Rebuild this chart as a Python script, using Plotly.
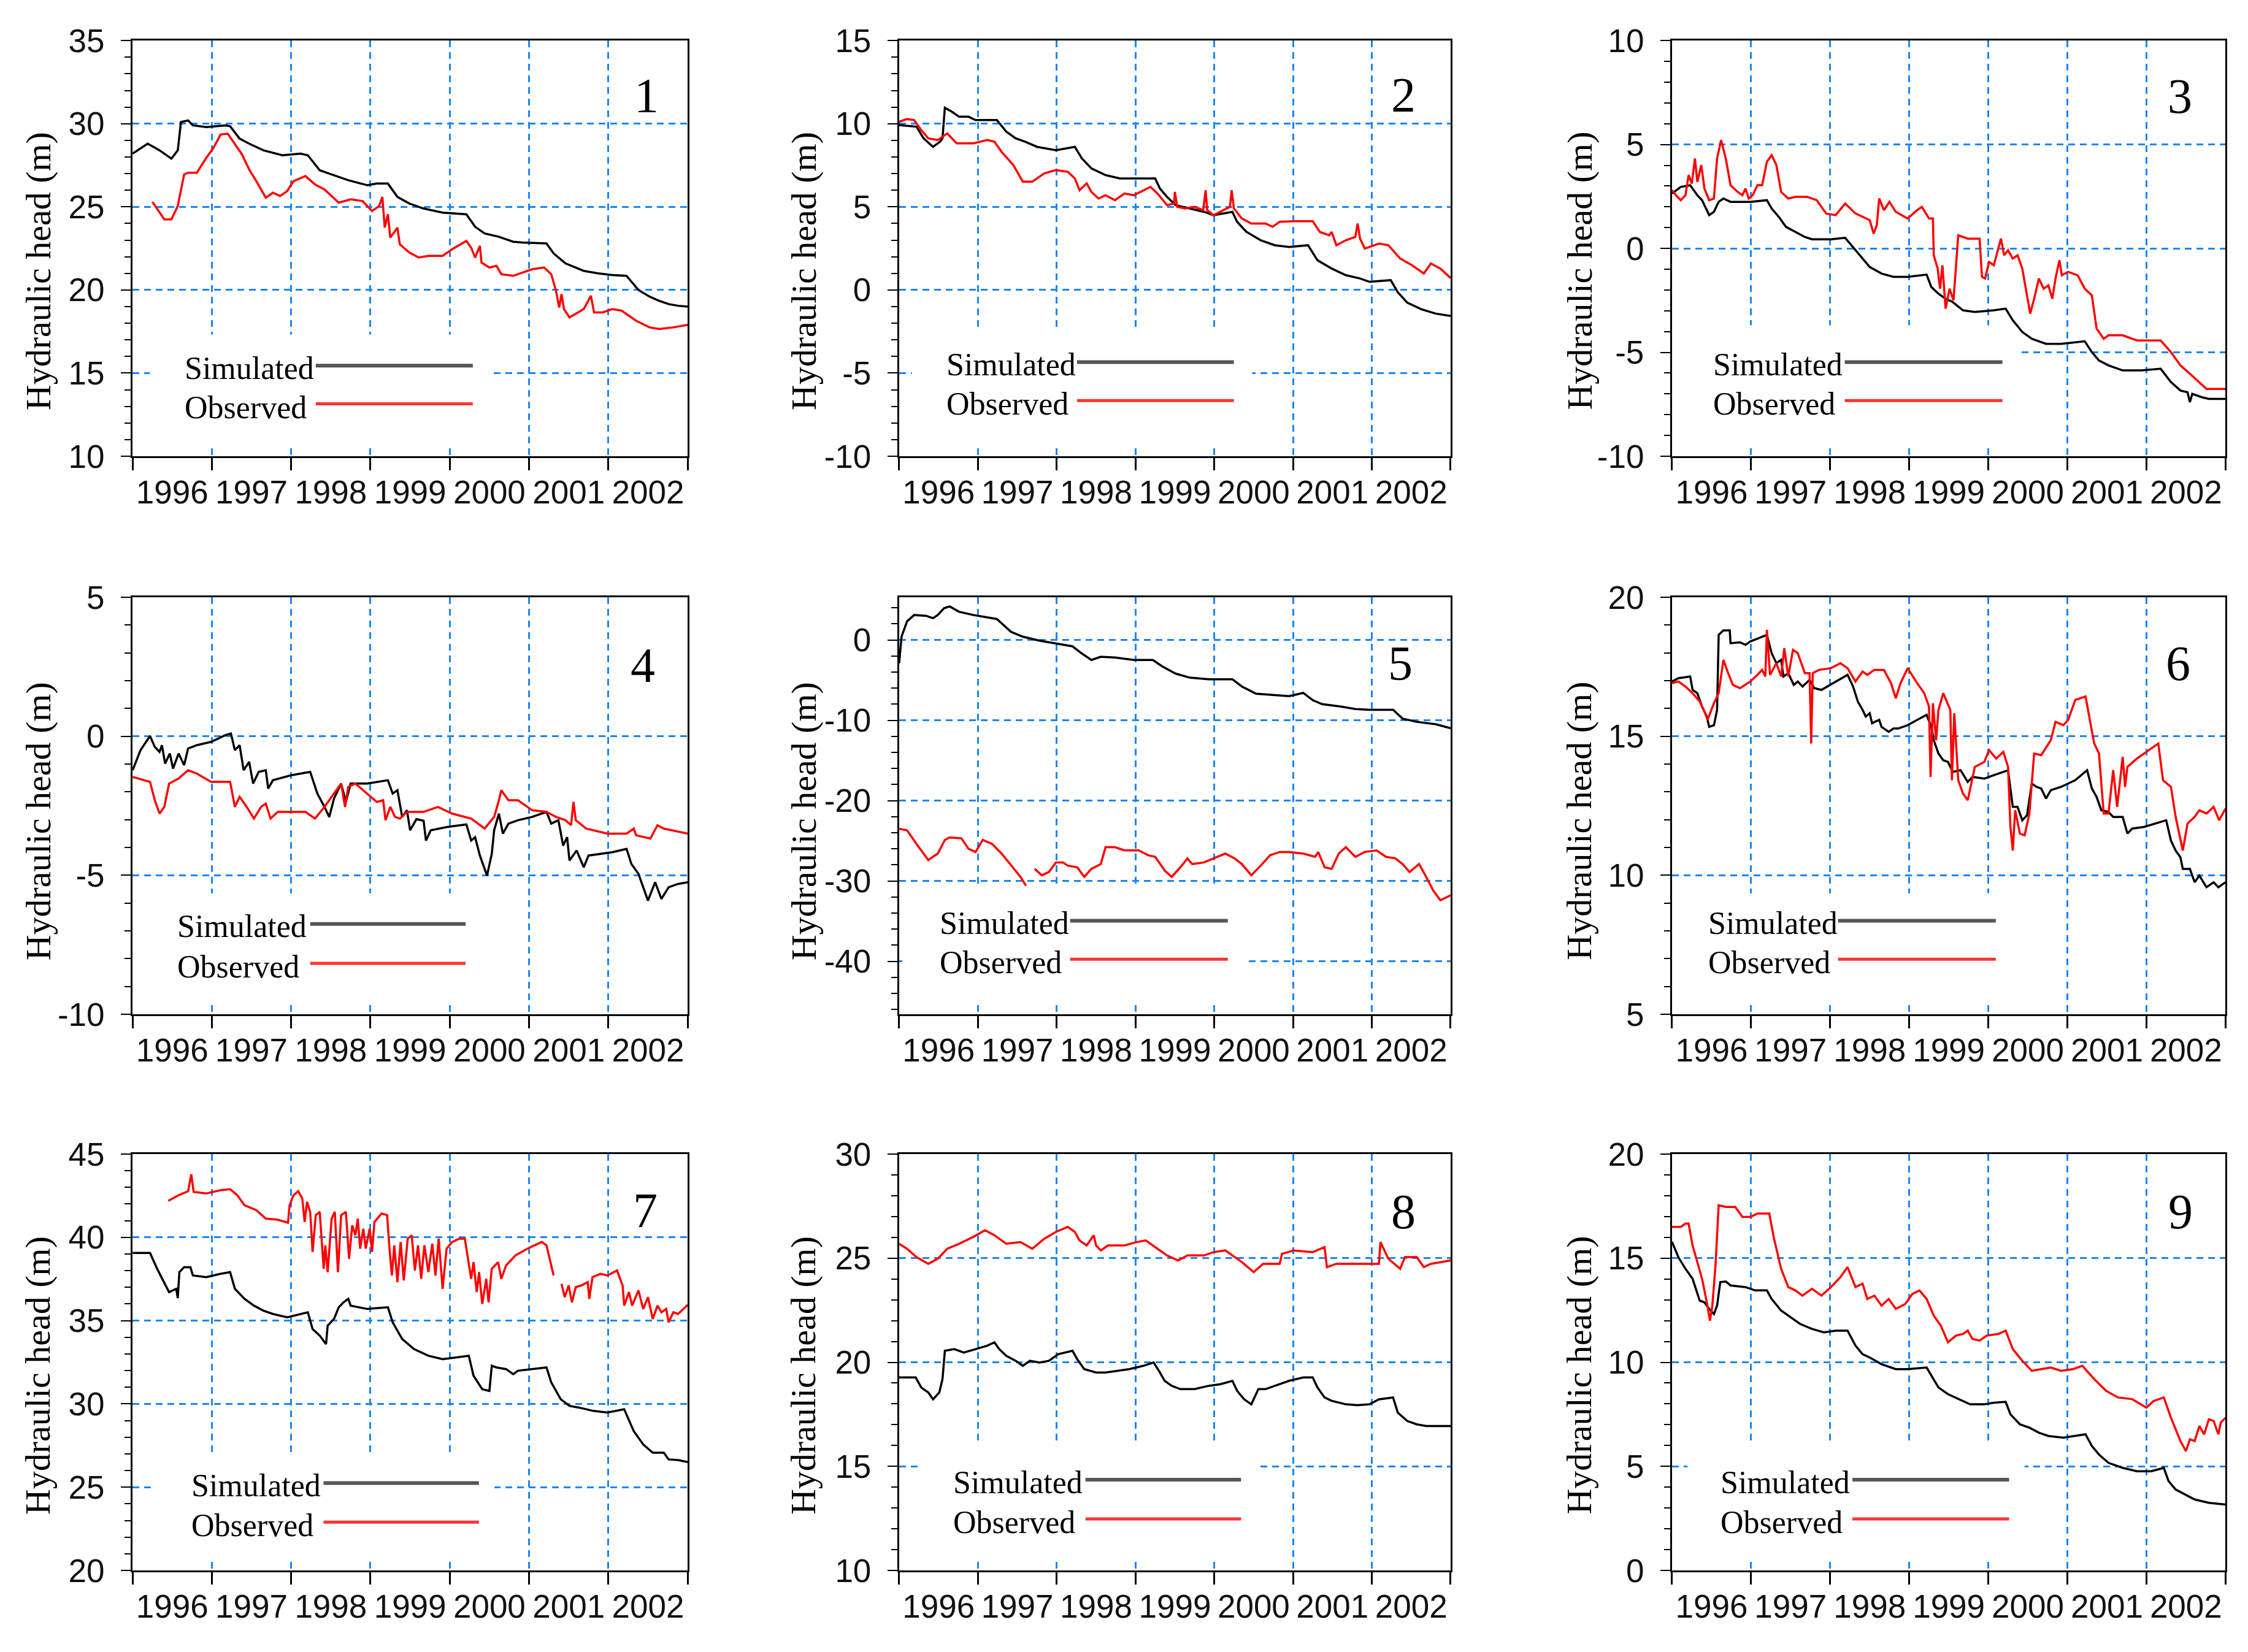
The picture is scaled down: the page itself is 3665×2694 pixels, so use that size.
import numpy as np
import plotly.graph_objects as go

# ---------------- data (decimal year, hydraulic head in m) ----------------
p1_sim = [(1996.00,28.2),(1996.19,28.8),(1996.34,28.4),(1996.49,27.9),(1996.57,28.4),(1996.61,30.1),(1996.70,30.2),(1996.76,29.9),(1996.93,29.8),(1997.17,29.9),(1997.23,29.85),(1997.35,29.1),(1997.47,28.8),(1997.65,28.4),(1997.89,28.1),(1998.12,28.2),(1998.21,28.1),(1998.36,27.2),(1998.48,27.0),(1998.72,26.6),(1998.96,26.3),(1999.08,26.4),(1999.22,26.4),(1999.34,25.6),(1999.49,25.2),(1999.67,24.9),(1999.91,24.65),(2000.03,24.6),(2000.21,24.55),(2000.32,23.8),(2000.44,23.4),(2000.62,23.2),(2000.80,22.9),(2000.92,22.85),(2001.22,22.8),(2001.31,22.2),(2001.46,21.6),(2001.69,21.15),(2001.87,21.0),(2002.05,20.9),(2002.23,20.85),(2002.38,20.0),(2002.52,19.6),(2002.64,19.35),(2002.76,19.15),(2002.88,19.05),(2003.00,19.0)]
p1_obs = [(1996.25,25.3),(1996.40,24.25),(1996.49,24.25),(1996.57,25.05),(1996.65,26.95),(1996.70,27.05),(1996.81,27.05),(1996.93,27.95),(1997.02,28.55),(1997.11,29.35),(1997.20,29.4),(1997.29,28.75),(1997.38,28.15),(1997.47,27.25),(1997.56,26.55),(1997.68,25.55),(1997.77,25.85),(1997.86,25.65),(1997.95,25.95),(1998.03,26.55),(1998.18,26.85),(1998.30,26.35),(1998.42,26.05),(1998.60,25.25),(1998.75,25.45),(1998.90,25.35),(1999.02,24.75),(1999.11,25.05),(1999.15,25.6),(1999.18,23.75),(1999.22,24.55),(1999.25,23.15),(1999.34,23.75),(1999.37,22.75),(1999.49,22.25),(1999.61,21.95),(1999.73,22.05),(1999.91,22.05),(2000.03,22.45),(2000.21,22.95),(2000.27,22.55),(2000.32,21.95),(2000.38,22.65),(2000.40,21.65),(2000.50,21.35),(2000.59,21.45),(2000.65,20.95),(2000.80,20.85),(2000.92,21.05),(2001.04,21.25),(2001.19,21.35),(2001.28,20.95),(2001.34,19.95),(2001.38,18.95),(2001.41,19.75),(2001.44,18.85),(2001.51,18.35),(2001.69,18.85),(2001.78,19.65),(2001.82,18.65),(2001.93,18.65),(2002.05,18.85),(2002.17,18.75),(2002.35,18.15),(2002.52,17.75),(2002.64,17.65),(2002.82,17.75),(2003.00,17.9)]

p2_sim = [(1996.00,9.92),(1996.22,9.82),(1996.31,9.12),(1996.43,8.61),(1996.52,8.92),(1996.55,9.12),(1996.58,10.96),(1996.67,10.72),(1996.76,10.42),(1996.88,10.42),(1996.97,10.22),(1997.24,10.22),(1997.36,9.52),(1997.48,9.12),(1997.60,8.92),(1997.75,8.61),(1997.99,8.41),(1998.23,8.61),(1998.32,7.91),(1998.44,7.31),(1998.62,6.91),(1998.80,6.71),(1998.98,6.71),(1999.25,6.71),(1999.31,6.10),(1999.40,5.60),(1999.51,5.10),(1999.69,4.90),(1999.87,4.70),(1999.99,4.50),(2000.23,4.70),(2000.29,4.10),(2000.41,3.49),(2000.59,2.99),(2000.77,2.69),(2000.95,2.59),(2001.19,2.69),(2001.31,1.79),(2001.49,1.29),(2001.67,0.89),(2001.85,0.69),(2001.97,0.49),(2002.24,0.59),(2002.33,-0.14),(2002.45,-0.76),(2002.63,-1.16),(2002.81,-1.42),(2003.00,-1.56)]
p2_obs = [(1996.00,10.12),(1996.10,10.28),(1996.19,10.22),(1996.28,9.62),(1996.37,9.12),(1996.49,9.02),(1996.61,9.42),(1996.73,8.82),(1996.94,8.82),(1997.12,9.02),(1997.21,8.92),(1997.30,8.31),(1997.45,7.51),(1997.57,6.51),(1997.69,6.51),(1997.84,7.01),(1997.99,7.21),(1998.14,7.11),(1998.23,6.71),(1998.29,6.00),(1998.38,6.41),(1998.44,5.90),(1998.53,5.50),(1998.62,5.70),(1998.74,5.40),(1998.86,5.80),(1998.98,5.70),(1999.10,6.00),(1999.19,6.20),(1999.28,5.80),(1999.40,5.10),(1999.49,5.20),(1999.50,5.90),(1999.53,5.00),(1999.63,4.90),(1999.75,5.00),(1999.86,4.80),(1999.89,6.00),(1999.91,4.80),(1999.99,4.50),(2000.08,4.70),(2000.20,5.00),(2000.22,6.00),(2000.25,4.90),(2000.35,4.30),(2000.47,4.00),(2000.65,4.00),(2000.74,3.80),(2000.83,4.10),(2001.01,4.14),(2001.25,4.14),(2001.34,3.49),(2001.46,3.29),(2001.49,3.49),(2001.55,2.69),(2001.67,2.99),(2001.79,3.19),(2001.82,4.00),(2001.85,3.09),(2001.91,2.49),(2002.09,2.79),(2002.21,2.69),(2002.36,1.89),(2002.51,1.49),(2002.66,0.99),(2002.75,1.59),(2002.87,1.29),(2003.00,0.72)]

p3_sim = [(1996.00,2.64),(1996.11,2.96),(1996.23,3.04),(1996.32,2.56),(1996.38,2.32),(1996.47,1.60),(1996.53,1.76),(1996.59,2.24),(1996.65,2.40),(1996.74,2.24),(1996.99,2.24),(1997.20,2.32),(1997.26,1.92),(1997.35,1.52),(1997.44,1.04),(1997.56,0.80),(1997.68,0.55),(1997.77,0.44),(1998.01,0.44),(1998.19,0.51),(1998.29,0.07),(1998.38,-0.33),(1998.50,-0.89),(1998.65,-1.21),(1998.80,-1.37),(1998.98,-1.37),(1999.22,-1.26),(1999.28,-1.86),(1999.37,-2.18),(1999.46,-2.42),(1999.55,-2.58),(1999.68,-2.98),(1999.83,-3.06),(2000.07,-2.98),(2000.22,-2.90),(2000.31,-3.46),(2000.43,-4.02),(2000.55,-4.35),(2000.73,-4.59),(2000.92,-4.59),(2001.10,-4.51),(2001.22,-4.47),(2001.31,-4.99),(2001.40,-5.39),(2001.52,-5.63),(2001.70,-5.87),(2001.94,-5.87),(2002.18,-5.79),(2002.31,-6.43),(2002.43,-6.84),(2002.52,-6.92),(2002.55,-7.40),(2002.58,-7.00),(2002.70,-7.16),(2002.79,-7.24),(2003.00,-7.24)]
p3_obs = [(1996.00,2.80),(1996.05,2.56),(1996.11,2.32),(1996.17,2.56),(1996.21,3.53),(1996.25,3.12),(1996.29,4.33),(1996.32,3.20),(1996.37,4.01),(1996.41,2.88),(1996.47,2.32),(1996.53,2.40),(1996.57,4.33),(1996.62,5.21),(1996.68,4.33),(1996.74,3.04),(1996.83,2.72),(1996.89,2.56),(1996.93,2.88),(1996.97,2.40),(1997.02,2.56),(1997.08,3.04),(1997.14,3.04),(1997.20,4.17),(1997.26,4.49),(1997.32,4.01),(1997.38,2.72),(1997.47,2.40),(1997.56,2.48),(1997.71,2.48),(1997.83,2.32),(1997.95,1.68),(1998.07,1.60),(1998.19,2.16),(1998.32,1.68),(1998.50,1.36),(1998.55,0.71),(1998.59,1.12),(1998.62,2.40),(1998.68,1.84),(1998.75,2.24),(1998.83,1.76),(1998.98,1.44),(1999.10,1.84),(1999.16,2.00),(1999.25,1.44),(1999.30,1.44),(1999.31,-0.33),(1999.36,-0.97),(1999.39,-1.94),(1999.42,-0.81),(1999.46,-2.90),(1999.51,-1.94),(1999.56,-2.50),(1999.62,0.63),(1999.74,0.47),(1999.89,0.47),(1999.92,-1.37),(1999.96,-1.45),(2000.01,-0.65),(2000.07,-0.81),(2000.16,0.47),(2000.20,-0.33),(2000.25,-0.09),(2000.31,-0.49),(2000.37,-0.33),(2000.43,-0.97),(2000.49,-2.26),(2000.53,-3.14),(2000.58,-2.42),(2000.64,-1.45),(2000.70,-1.94),(2000.76,-1.78),(2000.81,-2.42),(2000.85,-1.45),(2000.90,-0.57),(2000.93,-1.29),(2001.01,-1.13),(2001.13,-1.29),(2001.22,-1.94),(2001.31,-2.26),(2001.37,-3.86),(2001.46,-4.35),(2001.52,-4.18),(2001.70,-4.18),(2001.88,-4.43),(2002.18,-4.43),(2002.31,-4.99),(2002.43,-5.63),(2002.55,-6.03),(2002.67,-6.43),(2002.76,-6.76),(2003.00,-6.76)]

p4_sim = [(1996.00,-1.22),(1996.10,-0.50),(1996.22,0.01),(1996.28,-0.38),(1996.34,-0.56),(1996.37,-0.32),(1996.41,-0.98),(1996.47,-0.62),(1996.51,-1.16),(1996.58,-0.62),(1996.65,-1.04),(1996.70,-0.44),(1996.81,-0.32),(1996.99,-0.20),(1997.17,0.04),(1997.24,0.10),(1997.29,-0.50),(1997.35,-0.32),(1997.40,-1.22),(1997.47,-0.92),(1997.52,-1.70),(1997.59,-1.28),(1997.68,-1.22),(1997.71,-1.88),(1997.77,-1.58),(1998.00,-1.40),(1998.24,-1.28),(1998.33,-2.06),(1998.42,-2.54),(1998.48,-2.90),(1998.54,-2.24),(1998.63,-1.70),(1998.69,-2.36),(1998.75,-1.70),(1998.96,-1.70),(1999.22,-1.58),(1999.28,-2.06),(1999.34,-1.94),(1999.40,-2.90),(1999.46,-2.66),(1999.50,-3.38),(1999.58,-2.98),(1999.67,-3.04),(1999.70,-3.75),(1999.76,-3.38),(1999.97,-3.26),(2000.21,-3.17),(2000.27,-3.75),(2000.32,-3.63),(2000.38,-4.29),(2000.47,-5.01),(2000.53,-4.23),(2000.56,-3.38),(2000.62,-2.78),(2000.67,-3.50),(2000.74,-3.14),(2000.86,-3.02),(2001.04,-2.90),(2001.22,-2.72),(2001.28,-3.14),(2001.37,-3.02),(2001.43,-3.93),(2001.48,-3.63),(2001.51,-4.47),(2001.60,-4.11),(2001.69,-4.71),(2001.75,-4.29),(2002.05,-4.17),(2002.23,-4.05),(2002.29,-4.59),(2002.38,-4.95),(2002.44,-5.43),(2002.50,-5.91),(2002.59,-5.25),(2002.67,-5.85),(2002.76,-5.43),(2002.88,-5.31),(2003.00,-5.25)]
p4_obs = [(1996.00,-1.46),(1996.16,-1.58),(1996.22,-1.64),(1996.28,-2.30),(1996.34,-2.78),(1996.40,-2.54),(1996.46,-1.70),(1996.58,-1.52),(1996.70,-1.22),(1996.81,-1.34),(1996.99,-1.64),(1997.23,-1.64),(1997.29,-2.54),(1997.35,-2.18),(1997.44,-2.54),(1997.53,-2.96),(1997.62,-2.54),(1997.68,-2.42),(1997.74,-2.96),(1997.83,-2.72),(1998.00,-2.72),(1998.18,-2.72),(1998.30,-2.96),(1998.42,-2.54),(1998.54,-2.06),(1998.63,-1.70),(1998.68,-2.54),(1998.72,-1.82),(1998.81,-1.70),(1998.96,-2.06),(1999.08,-2.36),(1999.16,-2.30),(1999.19,-3.02),(1999.25,-2.54),(1999.31,-2.90),(1999.37,-2.96),(1999.46,-2.72),(1999.67,-2.72),(1999.85,-2.54),(2000.03,-2.78),(2000.27,-2.96),(2000.44,-3.32),(2000.56,-2.90),(2000.62,-2.30),(2000.65,-1.94),(2000.74,-2.30),(2000.86,-2.30),(2001.04,-2.66),(2001.22,-2.72),(2001.34,-2.90),(2001.46,-3.02),(2001.53,-3.20),(2001.56,-2.36),(2001.59,-3.02),(2001.72,-3.32),(2001.99,-3.50),(2002.23,-3.50),(2002.32,-3.32),(2002.35,-3.56),(2002.53,-3.68),(2002.62,-3.20),(2002.70,-3.32),(2003.00,-3.50)]

p5_sim = [(1996.00,-2.9),(1996.03,0.4),(1996.10,2.3),(1996.19,3.1),(1996.34,3.0),(1996.43,2.7),(1996.49,3.1),(1996.57,3.95),(1996.64,4.16),(1996.76,3.5),(1996.94,3.1),(1997.12,2.8),(1997.24,2.6),(1997.42,1.0),(1997.57,0.4),(1997.78,-0.1),(1998.02,-0.5),(1998.20,-0.8),(1998.32,-1.7),(1998.44,-2.5),(1998.56,-2.1),(1998.74,-2.2),(1998.98,-2.5),(1999.22,-2.5),(1999.34,-3.3),(1999.51,-4.2),(1999.69,-4.7),(1999.93,-4.9),(2000.23,-4.9),(2000.35,-5.8),(2000.53,-6.7),(2000.77,-6.9),(2000.95,-7.0),(2001.13,-6.6),(2001.25,-7.5),(2001.37,-8.0),(2001.61,-8.3),(2001.79,-8.6),(2001.97,-8.7),(2002.27,-8.7),(2002.39,-9.8),(2002.57,-10.2),(2002.81,-10.5),(2003.00,-11.0)]
p5_obs = [(1996.00,-23.5),(1996.10,-23.7),(1996.22,-25.4),(1996.37,-27.4),(1996.49,-26.6),(1996.58,-24.9),(1996.64,-24.6),(1996.79,-24.7),(1996.88,-26.0),(1996.97,-26.4),(1997.06,-24.9),(1997.18,-25.4),(1997.30,-26.6),(1997.42,-28.1),(1997.54,-29.5),(1997.61,-30.6),(1997.66,None),(1997.72,-28.5),(1997.81,-29.3),(1997.90,-28.9),(1997.99,-27.7),(1998.08,-27.7),(1998.14,-28.1),(1998.26,-28.3),(1998.35,-29.5),(1998.44,-28.5),(1998.56,-27.9),(1998.62,-25.8),(1998.74,-25.8),(1998.86,-26.2),(1999.04,-26.2),(1999.16,-26.8),(1999.25,-27.0),(1999.37,-28.7),(1999.46,-29.5),(1999.57,-28.3),(1999.66,-27.2),(1999.72,-27.9),(1999.87,-27.7),(1999.99,-27.2),(2000.14,-26.6),(2000.26,-27.2),(2000.35,-27.9),(2000.47,-29.3),(2000.59,-28.1),(2000.71,-26.8),(2000.83,-26.4),(2000.95,-26.4),(2001.13,-26.6),(2001.28,-27.0),(2001.32,-26.4),(2001.40,-28.3),(2001.49,-28.5),(2001.58,-26.6),(2001.67,-25.8),(2001.79,-27.0),(2001.91,-26.4),(2002.06,-26.2),(2002.18,-27.0),(2002.30,-27.2),(2002.39,-27.9),(2002.48,-28.9),(2002.60,-27.9),(2002.69,-29.5),(2002.78,-31.2),(2002.87,-32.4),(2003.00,-31.8)]

p6_sim = [(1996.00,16.97),(1996.08,17.09),(1996.23,17.15),(1996.26,16.67),(1996.32,16.55),(1996.38,16.07),(1996.44,15.71),(1996.47,15.34),(1996.53,15.40),(1996.57,15.95),(1996.59,18.65),(1996.65,18.81),(1996.73,18.81),(1996.74,18.35),(1996.86,18.38),(1996.93,18.29),(1996.99,18.41),(1997.20,18.65),(1997.26,17.99),(1997.32,17.63),(1997.38,17.75),(1997.41,17.15),(1997.47,17.27),(1997.54,16.85),(1997.59,16.97),(1997.65,16.79),(1997.74,17.03),(1997.80,16.73),(1997.89,16.67),(1998.07,16.97),(1998.22,17.21),(1998.29,16.79),(1998.35,16.25),(1998.41,15.95),(1998.45,15.71),(1998.50,15.83),(1998.53,15.47),(1998.62,15.59),(1998.65,15.34),(1998.74,15.16),(1998.80,15.28),(1998.86,15.28),(1998.98,15.40),(1999.10,15.59),(1999.22,15.77),(1999.28,15.34),(1999.31,14.86),(1999.37,14.38),(1999.43,14.14),(1999.49,14.08),(1999.55,13.72),(1999.65,13.78),(1999.74,13.36),(1999.80,13.54),(1999.95,13.48),(2000.07,13.60),(2000.19,13.72),(2000.25,13.78),(2000.31,12.46),(2000.37,12.46),(2000.43,11.98),(2000.49,12.16),(2000.55,13.30),(2000.61,13.18),(2000.67,13.12),(2000.73,12.76),(2000.79,13.06),(2000.92,13.18),(2001.10,13.42),(2001.25,13.78),(2001.31,13.12),(2001.37,12.82),(2001.43,12.34),(2001.52,12.28),(2001.58,12.10),(2001.70,12.10),(2001.76,11.50),(2001.82,11.68),(2001.97,11.74),(2002.12,11.86),(2002.25,11.98),(2002.31,11.25),(2002.37,10.89),(2002.43,10.65),(2002.46,10.23),(2002.55,10.23),(2002.61,9.75),(2002.67,9.99),(2002.76,9.57),(2002.85,9.75),(2002.91,9.57),(2003.00,9.75)]
p6_obs = [(1996.00,16.91),(1996.08,16.97),(1996.17,16.79),(1996.26,16.55),(1996.35,16.25),(1996.41,15.89),(1996.45,15.59),(1996.53,16.19),(1996.59,16.55),(1996.62,17.09),(1996.65,17.75),(1996.71,17.27),(1996.77,16.85),(1996.86,16.73),(1996.99,16.97),(1997.08,17.21),(1997.14,17.39),(1997.18,17.15),(1997.20,18.83),(1997.24,17.21),(1997.32,17.63),(1997.38,17.15),(1997.42,18.17),(1997.47,17.15),(1997.53,18.11),(1997.59,17.99),(1997.68,17.27),(1997.74,17.27),(1997.76,14.74),(1997.78,17.27),(1997.86,17.39),(1998.01,17.45),(1998.13,17.63),(1998.22,17.45),(1998.32,16.97),(1998.41,17.33),(1998.47,17.21),(1998.56,17.39),(1998.68,17.39),(1998.77,16.91),(1998.83,16.37),(1998.89,16.91),(1998.98,17.45),(1999.10,16.91),(1999.19,16.55),(1999.25,16.07),(1999.27,13.54),(1999.30,16.19),(1999.34,14.86),(1999.37,15.95),(1999.43,16.55),(1999.52,15.95),(1999.54,13.42),(1999.57,15.83),(1999.62,13.42),(1999.68,12.94),(1999.74,12.70),(1999.83,13.90),(1999.95,14.08),(2000.01,14.50),(2000.10,14.20),(2000.19,14.44),(2000.25,13.90),(2000.28,11.74),(2000.31,10.89),(2000.34,12.34),(2000.40,11.50),(2000.46,11.44),(2000.52,12.22),(2000.58,14.38),(2000.67,14.32),(2000.79,14.86),(2000.85,15.52),(2000.95,15.40),(2001.01,15.59),(2001.10,16.31),(2001.23,16.43),(2001.34,14.74),(2001.40,14.38),(2001.46,12.22),(2001.52,12.22),(2001.58,13.78),(2001.63,12.46),(2001.70,14.26),(2001.73,13.18),(2001.76,13.90),(2001.88,14.20),(2002.06,14.56),(2002.15,14.74),(2002.21,13.42),(2002.31,13.18),(2002.37,12.10),(2002.46,10.89),(2002.52,11.86),(2002.61,12.10),(2002.67,12.34),(2002.76,12.22),(2002.85,12.46),(2002.92,11.98),(2003.00,12.40)]

p7_sim = [(1996.00,39.06),(1996.22,39.06),(1996.31,38.11),(1996.40,37.31),(1996.46,36.71),(1996.55,36.91),(1996.57,36.35),(1996.59,37.91),(1996.65,38.21),(1996.73,38.21),(1996.76,37.71),(1996.93,37.61),(1997.11,37.81),(1997.23,37.91),(1997.29,36.91),(1997.41,36.31),(1997.53,35.90),(1997.65,35.60),(1997.77,35.40),(1997.95,35.20),(1998.21,35.50),(1998.27,34.50),(1998.36,34.10),(1998.44,33.59),(1998.46,34.70),(1998.54,35.10),(1998.60,35.80),(1998.66,36.10),(1998.72,36.31),(1998.75,35.90),(1998.96,35.70),(1999.22,35.80),(1999.28,34.90),(1999.40,33.90),(1999.55,33.29),(1999.73,32.89),(1999.91,32.69),(2000.24,32.89),(2000.30,31.69),(2000.41,30.88),(2000.50,30.78),(2000.53,32.29),(2000.59,32.19),(2000.71,32.09),(2000.80,31.79),(2000.86,31.99),(2001.22,32.19),(2001.28,31.29),(2001.40,30.28),(2001.51,29.88),(2001.63,29.78),(2001.81,29.58),(2001.99,29.48),(2002.20,29.68),(2002.32,28.37),(2002.44,27.57),(2002.56,27.07),(2002.70,27.07),(2002.76,26.67),(2002.88,26.63),(2003.00,26.51)]
p7_obs = [(1996.45,42.19),(1996.58,42.53),(1996.70,42.77),(1996.74,43.78),(1996.77,42.73),(1996.93,42.63),(1997.11,42.83),(1997.23,42.89),(1997.32,42.53),(1997.41,41.93),(1997.56,41.63),(1997.68,41.12),(1997.83,41.06),(1997.96,40.88),(1997.98,41.93),(1998.03,42.53),(1998.09,42.77),(1998.14,42.33),(1998.17,40.92),(1998.20,42.13),(1998.24,41.53),(1998.27,39.12),(1998.31,41.33),(1998.36,41.53),(1998.41,38.11),(1998.43,39.52),(1998.46,37.91),(1998.51,41.12),(1998.55,41.53),(1998.59,37.91),(1998.63,41.33),(1998.69,41.53),(1998.73,38.71),(1998.77,40.72),(1998.81,40.12),(1998.84,41.12),(1998.87,39.32),(1998.91,40.52),(1998.94,39.32),(1998.99,40.52),(1999.02,39.12),(1999.05,40.92),(1999.14,41.43),(1999.21,41.33),(1999.24,39.32),(1999.27,37.71),(1999.30,39.52),(1999.34,37.31),(1999.38,39.72),(1999.42,37.41),(1999.47,39.92),(1999.52,40.12),(1999.56,38.01),(1999.60,39.52),(1999.64,37.51),(1999.68,39.52),(1999.73,37.91),(1999.78,39.62),(1999.82,37.71),(1999.86,39.92),(1999.91,36.91),(1999.96,39.32),(2000.03,39.72),(2000.12,39.92),(2000.19,39.92),(2000.24,38.51),(2000.27,37.51),(2000.30,38.51),(2000.34,36.71),(2000.37,37.91),(2000.41,36.00),(2000.46,37.51),(2000.49,36.10),(2000.53,38.11),(2000.61,38.51),(2000.65,37.51),(2000.71,38.31),(2000.83,38.92),(2000.98,39.32),(2001.16,39.72),(2001.22,39.52),(2001.31,37.71),(2001.36,None),(2001.41,37.21),(2001.45,36.41),(2001.50,37.11),(2001.54,36.10),(2001.59,37.01),(2001.66,37.11),(2001.74,37.31),(2001.76,36.31),(2001.80,37.61),(2001.90,37.81),(2001.99,37.71),(2002.11,38.01),(2002.18,37.11),(2002.20,35.90),(2002.26,36.71),(2002.30,35.90),(2002.38,36.81),(2002.44,35.70),(2002.50,36.41),(2002.56,35.10),(2002.62,35.90),(2002.67,35.50),(2002.73,35.70),(2002.76,34.90),(2002.82,35.50),(2002.88,35.40),(2003.00,35.94)]

p8_sim = [(1996.00,19.27),(1996.21,19.27),(1996.28,18.79),(1996.37,18.55),(1996.43,18.22),(1996.51,18.55),(1996.55,19.19),(1996.58,20.55),(1996.70,20.63),(1996.82,20.47),(1996.97,20.63),(1997.12,20.80),(1997.21,20.96),(1997.27,20.63),(1997.36,20.31),(1997.48,20.07),(1997.57,19.83),(1997.66,20.07),(1997.78,19.99),(1997.90,20.07),(1998.02,20.39),(1998.20,20.55),(1998.26,20.15),(1998.35,19.67),(1998.50,19.51),(1998.62,19.51),(1998.77,19.59),(1998.92,19.67),(1999.10,19.83),(1999.23,19.99),(1999.31,19.51),(1999.37,19.11),(1999.46,18.87),(1999.57,18.71),(1999.75,18.71),(1999.93,18.87),(2000.08,18.95),(2000.23,19.11),(2000.29,18.63),(2000.38,18.22),(2000.47,17.98),(2000.56,18.71),(2000.65,18.71),(2000.77,18.87),(2000.95,19.11),(2001.13,19.27),(2001.25,19.27),(2001.31,18.79),(2001.40,18.31),(2001.49,18.15),(2001.67,17.98),(2001.82,17.94),(2001.97,17.98),(2002.09,18.22),(2002.27,18.31),(2002.33,17.58),(2002.45,17.18),(2002.57,17.02),(2002.69,16.94),(2002.81,16.94),(2003.00,16.94)]
p8_obs = [(1996.00,25.69),(1996.10,25.45),(1996.22,25.05),(1996.37,24.73),(1996.49,24.97),(1996.61,25.45),(1996.76,25.69),(1996.94,26.02),(1997.09,26.34),(1997.21,26.10),(1997.36,25.69),(1997.54,25.77),(1997.69,25.45),(1997.84,25.93),(1997.99,26.26),(1998.14,26.50),(1998.23,26.26),(1998.29,25.85),(1998.38,25.61),(1998.47,26.10),(1998.50,25.61),(1998.56,25.37),(1998.65,25.61),(1998.86,25.61),(1999.01,25.77),(1999.13,25.85),(1999.28,25.45),(1999.40,25.13),(1999.54,24.89),(1999.66,25.13),(1999.87,25.13),(1999.99,25.29),(2000.14,25.37),(2000.23,25.13),(2000.35,24.81),(2000.50,24.33),(2000.62,24.73),(2000.83,24.73),(2000.86,25.21),(2001.01,25.37),(2001.25,25.29),(2001.40,25.53),(2001.43,24.57),(2001.55,24.73),(2001.79,24.73),(2002.09,24.73),(2002.11,25.77),(2002.15,25.45),(2002.21,24.97),(2002.36,24.49),(2002.42,25.05),(2002.57,25.05),(2002.66,24.57),(2002.75,24.73),(2002.87,24.81),(2003.00,24.89)]

p9_sim = [(1996.00,15.78),(1996.08,15.05),(1996.17,14.49),(1996.26,14.01),(1996.35,12.96),(1996.41,12.88),(1996.47,12.56),(1996.53,12.32),(1996.57,12.72),(1996.61,13.85),(1996.68,13.88),(1996.74,13.69),(1996.93,13.61),(1997.05,13.45),(1997.20,13.45),(1997.26,13.04),(1997.38,12.48),(1997.50,12.16),(1997.62,11.84),(1997.77,11.60),(1997.92,11.44),(1998.07,11.52),(1998.22,11.52),(1998.32,10.80),(1998.41,10.39),(1998.50,10.23),(1998.65,9.91),(1998.83,9.67),(1998.98,9.67),(1999.22,9.75),(1999.28,9.35),(1999.37,8.79),(1999.49,8.47),(1999.62,8.23),(1999.77,7.98),(1999.95,7.98),(2000.07,8.06),(2000.22,8.10),(2000.28,7.50),(2000.40,7.02),(2000.52,6.86),(2000.64,6.62),(2000.76,6.46),(2000.95,6.38),(2001.10,6.46),(2001.23,6.54),(2001.31,5.98),(2001.40,5.57),(2001.52,5.17),(2001.70,4.93),(2001.88,4.77),(2002.06,4.77),(2002.22,4.93),(2002.28,4.29),(2002.37,3.89),(2002.49,3.65),(2002.61,3.41),(2002.79,3.25),(2003.00,3.17)]
p9_obs = [(1996.00,16.50),(1996.11,16.50),(1996.17,16.66),(1996.21,16.66),(1996.26,15.61),(1996.32,14.81),(1996.38,14.01),(1996.44,12.88),(1996.48,12.00),(1996.51,12.72),(1996.55,14.65),(1996.59,17.54),(1996.68,17.46),(1996.80,17.46),(1996.89,16.98),(1996.99,16.98),(1997.08,17.14),(1997.23,17.14),(1997.29,15.94),(1997.38,14.49),(1997.47,13.61),(1997.56,13.45),(1997.65,13.20),(1997.77,13.53),(1997.89,13.20),(1998.01,13.61),(1998.13,14.09),(1998.22,14.57),(1998.32,13.61),(1998.41,13.77),(1998.47,13.04),(1998.56,13.20),(1998.65,12.72),(1998.74,13.04),(1998.83,12.56),(1998.95,12.80),(1999.04,13.28),(1999.13,13.45),(1999.22,13.04),(1999.31,12.24),(1999.40,11.76),(1999.49,10.96),(1999.59,11.28),(1999.68,11.36),(1999.74,11.52),(1999.80,11.12),(1999.89,11.04),(1999.98,11.28),(2000.13,11.36),(2000.22,11.52),(2000.31,10.63),(2000.43,10.07),(2000.55,9.59),(2000.67,9.67),(2000.79,9.75),(2000.92,9.59),(2001.07,9.67),(2001.19,9.83),(2001.34,9.19),(2001.49,8.63),(2001.64,8.31),(2001.82,8.23),(2002.00,7.82),(2002.09,8.14),(2002.22,8.31),(2002.31,7.34),(2002.43,6.22),(2002.50,5.73),(2002.55,6.30),(2002.61,6.22),(2002.67,6.94),(2002.73,6.54),(2002.79,7.26),(2002.85,7.18),(2002.91,6.54),(2002.94,7.10),(2003.00,7.34)]

simulated = [p1_sim, p2_sim, p3_sim, p4_sim, p5_sim, p6_sim, p7_sim, p8_sim, p9_sim]
observed = [p1_obs, p2_obs, p3_obs, p4_obs, p5_obs, p6_obs, p7_obs, p8_obs, p9_obs]

panel_labels = ["1", "2", "3", "4", "5", "6", "7", "8", "9"]
series_names = ["Simulated", "Observed"]
y_title = "Hydraulic head (m)"

year_labels = ["1996", "1997", "1998", "1999", "2000", "2001", "2002"]
year_label_pos = [1996.5, 1997.5, 1998.5, 1999.5, 2000.5, 2001.5, 2002.5]
year_bounds = [1996, 1997, 1998, 1999, 2000, 2001, 2002, 2003]
x_range = [1996, 2003]

y_ranges = [[10, 35], [-10, 15], [-10, 10], [-10, 5], [-46.6, 5.3], [5, 20], [20, 45], [10, 30], [0, 20]]
y_ticks = [[10, 15, 20, 25, 30, 35], [-10, -5, 0, 5, 10, 15], [-10, -5, 0, 5, 10], [-10, -5, 0, 5],
           [-40, -30, -20, -10, 0], [5, 10, 15, 20], [20, 25, 30, 35, 40, 45], [10, 15, 20, 25, 30], [0, 5, 10, 15, 20]]
y_minor_step = [1, 1, 1, 1, 2, 1, 1, 1, 1]

# ---------------- style / layout ----------------
W, H = 3665, 2694
DX, DY = -0.0027, 0.0022   # small page-offset compensation
col_dom = [(0.0595 + DX, 0.3064 + DX), (0.4005 + DX, 0.6458 + DX), (0.7443 + DX, 0.9905 + DX)]
row_dom = [(0.7246 + DY, 0.9762 + DY), (0.3868 + DY, 0.6392 + DY), (0.0501 + DY, 0.3022 + DY)]
ytitle_x = [0.0175 + DX, 0.3580 + DX, 0.7030 + DX]
ytitle_y = [0.8367 + DY, 0.5037 + DY, 0.1682 + DY]
num_pos = [(0.926, 0.867), (0.914, 0.869), (0.918, 0.866),
           (0.919, 0.837), (0.909, 0.841), (0.914, 0.841),
           (0.924, 0.865), (0.914, 0.862), (0.919, 0.862)]
# legend box / sample positions, fractions of each plot area
leg = [
    dict(tl=0.091, lx0=0.330, lx1=0.613, ys=0.218, yo=0.126, bx0=0.031, bx1=0.645, by1=0.293),
    dict(tl=0.083, lx0=0.3225, lx1=0.607, ys=0.2265, yo=0.134, bx0=0.023, bx1=0.64, by1=0.31),
    dict(tl=0.072, lx0=0.312, lx1=0.597, ys=0.2265, yo=0.134, bx0=0.0, bx1=0.63, by1=0.315),
    dict(tl=0.078, lx0=0.32, lx1=0.60, ys=0.2165, yo=0.122, bx0=0.03, bx1=0.64, by1=0.29),
    dict(tl=0.071, lx0=0.31, lx1=0.596, ys=0.2245, yo=0.132, bx0=0.006, bx1=0.626, by1=0.31),
    dict(tl=0.063, lx0=0.30, lx1=0.585, ys=0.2245, yo=0.132, bx0=0.03, bx1=0.64, by1=0.29),
    dict(tl=0.104, lx0=0.344, lx1=0.624, ys=0.21, yo=0.116, bx0=0.04, bx1=0.652, by1=0.283),
    dict(tl=0.096, lx0=0.338, lx1=0.62, ys=0.218, yo=0.124, bx0=0.036, bx1=0.65, by1=0.30),
    dict(tl=0.085, lx0=0.326, lx1=0.609, ys=0.218, yo=0.124, bx0=0.028, bx1=0.637, by1=0.30),
]

GRID = "#1A86F5"
DASH = "11px,8px"
SANS = "Liberation Sans, Arial, sans-serif"
SERIF = "Liberation Serif, Times New Roman, serif"

fig = go.Figure()
layout = dict(template="none", width=W, height=H,
              margin=dict(l=0, r=0, t=0, b=0, pad=0, autoexpand=False),
              paper_bgcolor="white", plot_bgcolor="white", showlegend=False)
shapes, annotations = [], []

for i in range(9):
    r, c = divmod(i, 3)
    n = "" if i == 0 else str(i + 1)
    xa, ya = "x" + n, "y" + n
    sx, sy = zip(*simulated[i])
    ox, oy = zip(*observed[i])
    fig.add_trace(go.Scatter(x=sx, y=sy, mode="lines", name=series_names[0],
                             line=dict(color="black", width=3.5), xaxis=xa, yaxis=ya))
    fig.add_trace(go.Scatter(x=ox, y=oy, mode="lines", name=series_names[1], connectgaps=False,
                             line=dict(color="#ff0000", width=3.5), xaxis=xa, yaxis=ya))

    lo, hi = y_ranges[i]
    st = y_minor_step[i]
    minor_vals = list(np.arange(np.ceil(lo / st) * st, hi + 1e-9, st))

    layout["xaxis" + n] = dict(
        domain=col_dom[c], anchor=ya, range=x_range, automargin=False,
        tickmode="array", tickvals=year_label_pos, ticktext=year_labels,
        ticks="", showgrid=False, zeroline=False,
        showline=True, mirror=True, linecolor="black", linewidth=3,
        tickfont=dict(family=SANS, size=53, color="#111"),
        ticklabelstandoff=10,
        minor=dict(tickmode="array", tickvals=year_bounds, ticks="outside", ticklen=20,
                   tickwidth=3, tickcolor="black", showgrid=True,
                   gridcolor=GRID, gridwidth=2.5, griddash=DASH),
    )
    layout["yaxis" + n] = dict(
        domain=row_dom[r], anchor=xa, range=[lo, hi], automargin=False,
        tickmode="array", tickvals=y_ticks[i], ticktext=[str(v) for v in y_ticks[i]],
        ticks="outside", ticklen=16, tickwidth=2, tickcolor="black",
        showgrid=True, gridcolor=GRID, gridwidth=2.5, griddash=DASH, zeroline=False,
        showline=True, mirror=True, linecolor="black", linewidth=3,
        tickfont=dict(family=SANS, size=53, color="#111"),
        ticklabelstandoff=16,
        minor=dict(tickmode="array", tickvals=minor_vals, ticks="outside", ticklen=10,
                   tickwidth=2, tickcolor="black", showgrid=False),
    )

    xd, yd = xa + " domain", ya + " domain"
    L = leg[i]
    # white box behind the legend, drawn between grid and data (hides the grid there)
    x0b = x_range[0] + L["bx0"] * (x_range[1] - x_range[0])
    x1b = x_range[0] + L["bx1"] * (x_range[1] - x_range[0])
    y0b = lo + 0.022 * (hi - lo)
    y1b = lo + L["by1"] * (hi - lo)
    shapes.append(dict(type="rect", xref=xa, yref=ya, x0=x0b, x1=x1b, y0=y0b, y1=y1b,
                       fillcolor="white", line=dict(width=0), layer="between"))
    shapes.append(dict(type="line", xref=xd, yref=yd, x0=L["lx0"], x1=L["lx1"], y0=L["ys"], y1=L["ys"],
                       line=dict(color="#555555", width=6), layer="above"))
    shapes.append(dict(type="line", xref=xd, yref=yd, x0=L["lx0"], x1=L["lx1"], y0=L["yo"], y1=L["yo"],
                       line=dict(color="#ff3333", width=5), layer="above"))
    annotations.append(dict(text=series_names[0], xref=xd, yref=yd, x=L["tl"], y=L["ys"] - 0.006,
                            xanchor="left", yanchor="middle", showarrow=False,
                            font=dict(family=SERIF, size=52, color="black")))
    annotations.append(dict(text=series_names[1], xref=xd, yref=yd, x=L["tl"], y=L["yo"] - 0.008,
                            xanchor="left", yanchor="middle", showarrow=False,
                            font=dict(family=SERIF, size=52, color="black")))
    # panel number
    annotations.append(dict(text=panel_labels[i], xref=xd, yref=yd, x=num_pos[i][0], y=num_pos[i][1],
                            xanchor="center", yanchor="middle", showarrow=False,
                            font=dict(family=SERIF, size=80, color="black")))
    # y axis title
    annotations.append(dict(text=y_title, xref="paper", yref="paper", x=ytitle_x[c], y=ytitle_y[r],
                            xanchor="center", yanchor="middle", textangle=-90, showarrow=False,
                            font=dict(family=SERIF, size=58, color="black")))

layout["shapes"] = shapes
layout["annotations"] = annotations
fig.update_layout(**layout)
fig.write_html("out.html")
